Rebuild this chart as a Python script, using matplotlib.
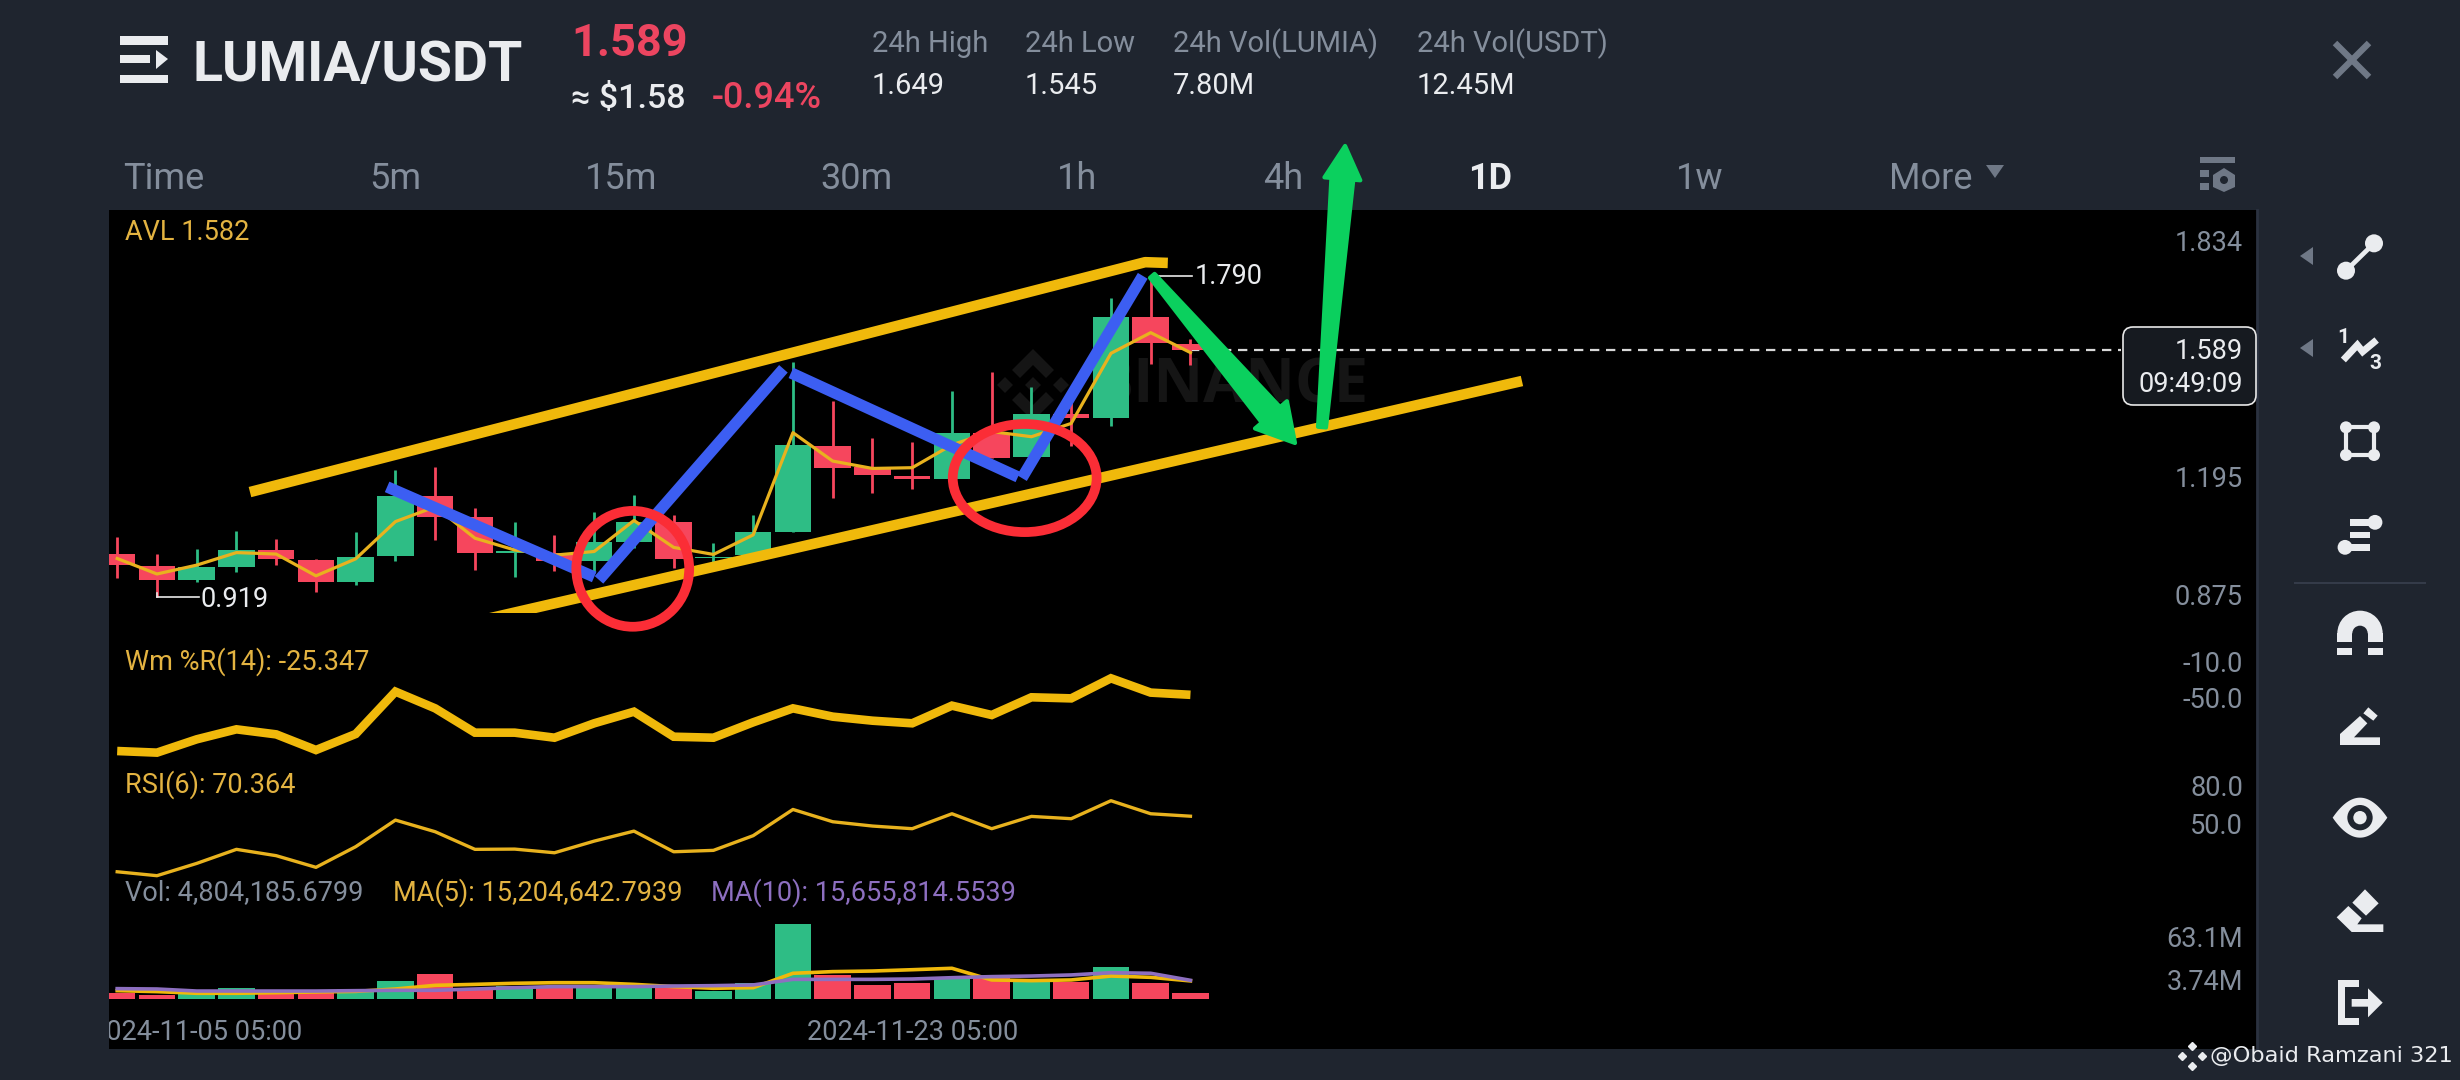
import numpy as np
import matplotlib
matplotlib.use("Agg")
import matplotlib.pyplot as plt
from matplotlib.patches import Polygon, Rectangle, Circle, Ellipse, Wedge, FancyBboxPatch
from matplotlib.transforms import blended_transform_factory

# ---------- data ----------
opens = [1.035,1.004,0.965,1.002,1.047,1.020,0.959,1.030,1.192,1.137,1.038,1.038,1.017,1.070,1.123,1.024,1.033,1.097,1.329,1.273,1.248,1.239,1.363,1.300,1.415,1.404,1.678,1.605]
closes = [1.005,0.966,1.000,1.047,1.022,0.961,1.028,1.192,1.137,1.038,1.043,1.018,1.069,1.122,1.023,1.029,1.096,1.332,1.270,1.249,1.239,1.363,1.297,1.415,1.404,1.678,1.607,1.589]
highs = [1.083,1.035,1.049,1.099,1.077,1.022,1.095,1.264,1.273,1.160,1.124,1.088,1.149,1.197,1.142,1.065,1.142,1.557,1.451,1.350,1.339,1.478,1.529,1.490,1.490,1.731,1.790,1.618]
lows = [0.972,0.919,0.961,0.988,1.005,0.934,0.951,1.017,1.074,0.993,0.975,0.991,0.984,1.052,0.997,1.015,1.033,1.097,1.189,1.201,1.211,1.239,1.297,1.300,1.329,1.384,1.551,1.547]
avl = [1.024,0.982,1.006,1.040,1.036,0.977,1.023,1.124,1.164,1.079,1.047,1.033,1.043,1.127,1.054,1.035,1.088,1.365,1.288,1.268,1.270,1.332,1.368,1.354,1.390,1.580,1.636,1.582]
wr14 = [-87.8,-89.6,-74.8,-63.7,-69.3,-86.7,-68.9,-21.8,-40.4,-67.4,-67.4,-73.0,-57.0,-44.1,-71.9,-73.0,-55.9,-40.4,-49.6,-54.1,-57.0,-37.4,-47.8,-28.1,-29.3,-7.0,-22.9,-25.347]
rsi6 = [26.5,23.4,33.1,44.2,39.2,30.0,46.3,67.3,58.1,44.2,44.4,41.5,50.7,58.6,42.3,43.4,55.0,75.7,66.0,62.6,60.5,72.3,60.5,70.2,68.4,82.6,72.3,70.364]
volume = [4.8,3.4,7.6,9.0,7.6,7.6,8.1,15.1,21.0,8.1,11.2,9.0,9.0,10.4,9.0,6.7,13.2,63.1,20.2,12.0,13.2,16.5,17.4,16.5,14.0,27.2,13.2,4.804]
vol_ma5 = [7.0,6.2,4.8,4.8,5.3,5.9,6.4,8.4,11.5,12.3,13.2,13.7,13.7,12.3,10.4,9.0,9.5,21.6,23.0,23.5,24.6,25.8,16.0,15.4,16.0,19.3,18.2,15.2]
vol_ma10 = [8.7,8.4,6.7,6.7,6.7,6.7,7.0,7.3,7.3,8.4,9.5,10.4,10.4,10.4,10.9,11.2,11.8,16.5,16.5,16.5,16.8,17.9,18.8,19.3,20.2,22.1,21.6,15.7]
date_ticks = [2, 20]
date_labels = ["2024-11-05 05:00", "2024-11-23 05:00"]
price_ticks = [1.834, 1.195, 0.875]
wr_ticks = [-10.0, -50.0]
rsi_ticks = [80.0, 50.0]
last_price = 1.589

# hand-drawn annotations, in (candle index, price)
channel_top = ([3.34, 25.86, 26.43], [1.204, 1.827, 1.825])
channel_low = ([9.13, 35.34], [0.856, 1.505])
blue_legs = [([6.79, 12.0], [1.218, 0.974]),
             ([12.12, 16.76], [0.966, 1.538]),
             ([16.95, 22.66], [1.527, 1.245]),
             ([22.76, 25.80], [1.242, 1.790])]
red_rings = [(12.97, 0.996, 2.84, 0.314), (22.83, 1.242, 3.62, 0.293)]
green_down = ((26.04, 1.790), (29.63, 1.337))
green_up = ((30.31, 1.380), (30.89, 2.142))

# ---------- style ----------
BG = "#1F252F"; UP = "#2EBD85"; DN = "#F6465D"; GOLD = "#F0B90B"; TXT_GOLD = "#E3B341"
GREY = "#848E9C"; WHITE = "#EAECEF"; PURPLE = "#8D6FC0"; ICON = "#6F7886"
W, H = 2460, 1080
plt.rcParams["font.family"] = ["Roboto", "DejaVu Sans"]
fig = plt.figure(figsize=(W/100, H/100), dpi=100, facecolor=BG)
PL, PR, PT, PB = 109, 2257, 210, 1049
X0, DX = 117.2, 39.75
xlim = ((PL-X0)/DX, (PR-X0)/DX)
n = len(opens)
xs = np.arange(n)

def px_axes(top, bottom, ylim=None, z=1):
    ax = fig.add_axes([PL/W, 1-bottom/H, (PR-PL)/W, (bottom-top)/H], zorder=z)
    ax.set_xlim(xlim)
    if ylim: ax.set_ylim(ylim)
    ax.axis("off")
    return ax

panel = px_axes(PT, PB, z=0)
panel.set_axis_on(); panel.set_facecolor("black"); panel.set_xticks([]); panel.set_yticks([])
for s in panel.spines.values(): s.set_visible(False)
panel.spines["right"].set_visible(True); panel.spines["right"].set_color("#2B3240"); panel.spines["right"].set_linewidth(2)

# watermark layer
wm = fig.add_axes([0,0,1,1], zorder=0.5); wm.set_xlim(0,W); wm.set_ylim(H,0); wm.axis("off")
WM = "#151515"; cx, cy = 1033, 385
for pts in ([(0,-36),(21,-15),(13,-7),(0,-20),(-13,-7),(-21,-15)],
            [(0,36),(21,15),(13,7),(0,20),(-13,7),(-21,15)],
            [(-36,0),(-28,-8),(-20,0),(-28,8)], [(36,0),(28,-8),(20,0),(28,8)],
            [(0,-8),(8,0),(0,8),(-8,0)]):
    wm.add_patch(Polygon([(cx+a, cy+b) for a,b in pts], fc=WM, ec="none"))
wm.text(1369, 387, "BINANCE", color=WM, fontsize=44, fontweight="bold", ha="right", va="center", family="Open Sans")

# price
P_K = 369.0
def p_at(y): return last_price - (y-350)/P_K
price = px_axes(PT, 613, (p_at(613), p_at(PT)), z=1)
cols = [UP if c >= o else DN for o, c in zip(opens, closes)]
price.vlines(xs, lows, highs, colors=cols, lw=2.0, zorder=2)
price.bar(xs, np.abs(np.array(closes)-np.array(opens)), bottom=np.minimum(opens, closes), width=0.92, color=cols, zorder=2)
price.plot(xs, avl, color="#E8B21E", lw=2.3, zorder=3)
price.plot([n-1, 50.4], [last_price]*2, color="#D8D8D8", lw=1.6, dashes=(4.2, 3), zorder=1.5)
price.plot([1, 2.05], [0.919]*2, color="#E8E8E8", lw=1.2, zorder=3)
price.plot([1, 1], [0.919, 0.93], color="#E8E8E8", lw=1.2, zorder=3)
price.plot([26.05, 27.05], [1.790]*2, color="#E8E8E8", lw=1.2, zorder=3)
price.annotate("0.919", xy=(2.1, 0.919), xytext=(0, -1.6), textcoords="offset points", color=WHITE, fontsize=19.5, va="center", zorder=6, annotation_clip=False)
price.annotate("1.790", xy=(27.1, 1.790), xytext=(0, -0.5), textcoords="offset points", color=WHITE, fontsize=19.5, va="center", zorder=6, annotation_clip=False)
price.plot(*channel_top, color=GOLD, lw=7.6, solid_capstyle="butt", solid_joinstyle="round", zorder=4, clip_on=False)
price.plot(*channel_low, color=GOLD, lw=7.6, solid_capstyle="butt", zorder=4)
for lx, ly in blue_legs:
    price.plot(lx, ly, color="#3C5EF2", lw=8.2, solid_capstyle="butt", zorder=5, clip_on=False)
for ex, ey, ew, eh in red_rings:
    price.add_patch(Ellipse((ex, ey), ew, eh, fc="none", ec="#FB2D36", lw=7.0, zorder=7, clip_on=False))

def ticks(ax, vals, fmt, dy):
    tr = blended_transform_factory(ax.transAxes, ax.transData)
    for v, d in zip(vals, dy):
        ax.annotate(fmt(v), xy=(1, v), xycoords=tr, xytext=(-14*0.72, d*0.72), textcoords="offset points",
                    ha="right", va="center", color=GREY, fontsize=19.5, annotation_clip=False, zorder=9)
ticks(price, price_ticks, lambda v: f"{v:.3f}", [16]*3)

# Williams %R
WK = 0.9
wr_ax = px_axes(640, 775, (-10-(775-681)/WK, -10+(681-640)/WK), z=2)
wr_ax.plot(xs, wr14, color=GOLD, lw=6.2, solid_joinstyle="miter", solid_capstyle="butt", clip_on=False)
ticks(wr_ax, wr_ticks, lambda v: f"{v:.1f}", [16]*2)

# RSI
RK = 38/30
rsi_ax = px_axes(775, 880, (80-(880-804)/RK, 80+(804-775)/RK), z=2)
rsi_ax.plot(xs, rsi6, color="#E8B21E", lw=2.4, clip_on=False)
ticks(rsi_ax, rsi_ticks, lambda v: f"{v:.1f}", [16]*2)

# Volume
VK = 0.84
vol_ax = px_axes(880, PB, (-(PB-999)*VK, (999-880)*VK), z=2)
vol_ax.bar(xs, volume, width=0.92, color=cols, zorder=1)
vol_ax.plot(xs, vol_ma5, color=GOLD, lw=2.6, zorder=2)
vol_ax.plot(xs, vol_ma10, color=PURPLE, lw=2.6, zorder=3)
tr = blended_transform_factory(vol_ax.transData, vol_ax.transAxes)
for t, l in zip(date_ticks, date_labels):
    vol_ax.text(t, (PB-1032.5)/(PB-880), l, transform=tr, ha="center", va="center", color=GREY, fontsize=19.5, clip_on=True)
ticks(vol_ax, [63.1, 3.74], lambda v: f"{v:.3g}M" if v < 10 else f"{v:.1f}M", [-16, 12.5])

# ---------- chrome ----------
ui = fig.add_axes([0,0,1,1], zorder=5); ui.set_xlim(0,W); ui.set_ylim(H,0); ui.axis("off")
def T(x, y, s, c=WHITE, fs=19.5, ha="left", dy=2.5, **k):
    ui.text(x, y+dy, s, color=c, fontsize=fs, ha=ha, va="center", **k)
def R(x0, y0, x1, y1, c=WHITE):
    ui.add_patch(Rectangle((x0,y0), x1-x0, y1-y0, fc=c, ec="none"))
def PG(pts, c=WHITE, **k):
    ui.add_patch(Polygon(pts, closed=True, fc=c, ec=k.pop("ec","none"), **k))
def C(x, y, r, c=WHITE):
    ui.add_patch(Circle((x,y), r, fc=c, ec="none"))

# panel captions
T(125, 230, "AVL 1.582", TXT_GOLD)
T(125, 659, "Wm %R(14): -25.347", TXT_GOLD)
T(125, 782, "RSI(6): 70.364", TXT_GOLD)
T(125, 890, "Vol: 4,804,185.6799", GREY)
T(393, 890, "MA(5): 15,204,642.7939", TXT_GOLD)
T(711, 890, "MA(10): 15,655,814.5539", PURPLE)

# header
R(120,36,168,45); R(120,75,168,83); R(120,55,150,63); R(120,63,150,65,BG)
PG([(156,50),(168,59),(156,69)])
T(193, 64, "LUMIA/USDT", WHITE, 40, fontweight="bold")
T(571, 41, "1.589", "#EC4560", 32.5, fontweight="bold")
T(571, 96.5, "\u2248 $1.58", WHITE, 24.5, fontweight="medium")
T(712, 96.5, "-0.94%", "#EC4560", 26, fontweight="medium")
for x, a, b in [(872,"24h High","1.649"),(1025,"24h Low","1.545"),(1173,"24h Vol(LUMIA)","7.80M"),(1417,"24h Vol(USDT)","12.45M")]:
    T(x, 41, a, GREY, 21); T(x, 83, b, WHITE, 21)
for x, s in [(164,"Time"),(395,"5m"),(621,"15m"),(857,"30m"),(1077,"1h"),(1283,"4h"),(1700,"1w"),(1931,"More")]:
    T(x, 175, s, GREY, 26, ha="center", dy=4)
T(1490, 175, "1D", WHITE, 26, ha="center", dy=4, fontweight="bold")
PG([(1986,165),(2004,165),(1995,178)], ICON)
# settings icon
R(2200,157,2235,163,ICON); R(2200,170,2209,177,ICON); R(2200,183,2209,190,ICON)
PG([(2224,168),(2235,175),(2235,187),(2224,192),(2213,187),(2213,175)], ICON); C(2224,180,4,BG)
# close
ui.plot([2335,2369],[43,77],color=ICON,lw=4.6,solid_capstyle="butt"); ui.plot([2335,2369],[77,43],color=ICON,lw=4.6,solid_capstyle="butt")

# price box
ui.add_patch(FancyBboxPatch((2128,332),123,68,boxstyle="round,pad=5,rounding_size=10",fc="#161A20",ec="#E8E8E8",lw=1.2))
T(2243, 349, "1.589", WHITE, 19.5, ha="right")
T(2243, 382, "09:49:09", WHITE, 19.5, ha="right")

# sidebar (zoomed coords -> px)
def zx(v): return 2280+v/3
def zy(v): return 220+v/3
def zz(v): return 590+v/3
for y in (256, 348):
    PG([(2300,y),(2313,y-9),(2313,y+9)], ICON)
C(zx(282),zy(70),9); C(zx(198),zy(152),9)
ui.plot([zx(282),zx(198)],[zy(70),zy(152)],color=WHITE,lw=3.4)
ui.plot([zx(190),zx(232),zx(248),zx(290)],[zy(420),zy(375),zy(395),zy(360)],color=WHITE,lw=5,solid_joinstyle="miter",solid_capstyle="butt")
T(zx(190),zy(352),"1",WHITE,15,ha="center",dy=0,fontweight="bold"); T(zx(285),zy(430),"3",WHITE,15,ha="center",dy=0,fontweight="bold")
for a,b in [(198,622),(282,622),(198,705),(282,705)]: C(zx(a),zy(b),6)
ui.add_patch(Rectangle((zx(198),zy(622)),28,zy(705)-zy(622),fc="none",ec=WHITE,lw=3))
R(zx(210),zy(897),zx(285),zy(918)); R(zx(210),zy(935),zx(270),zy(955)); R(zx(195),zy(972),zx(270),zy(993))
C(zx(285),zy(907),7.4); C(zx(195),zy(982),7.4)
R(2294,582,2426,584,"#343B49")
# magnet
ui.add_patch(Wedge((zx(240),zz(130)),68/3,180,360,width=45/3,fc=WHITE,ec="none"))
R(zx(172),zz(130),zx(217),zz(157)); R(zx(263),zz(130),zx(308),zz(157)); R(zx(172),zz(175),zx(217),zz(196)); R(zx(263),zz(175),zx(308),zz(196))
# pencil
Z = lambda pts: [(zx(a),zz(b)) for a,b in pts]
PG(Z([(180,432),(240,378),(262,400),(222,442),(300,442),(300,465),(180,465)]))
PG(Z([(250,370),(265,352),(293,377),(280,392)]))
# eye
t = np.linspace(-1,1,40)
PG(Z(list(zip(240+82*t,683-60*(1-t**2)))+list(zip(240-82*t,683+60*(1-t**2)))))
C(zx(240),zz(683),38/3,BG); C(zx(240),zz(683),20/3)
# eraser
PG(Z([(255,898),(296,940),(258,977),(217,938)]))
PG(Z([(170,982),(205,948),(245,985),(232,1003),(310,1003),(310,1026),(215,1026)]))
# exit
PG(Z([(175,1170),(238,1170),(238,1190),(196,1190),(196,1285),(238,1285),(238,1306),(175,1306)]))
PG(Z([(215,1227),(264,1227),(264,1195),(308,1238),(264,1282),(264,1250),(215,1250)]))

# footer tag
ui.text(2210, 1056, "@Obaid Ramzani 321", color=WHITE, fontsize=16.2, family="DejaVu Sans", ha="left", va="center", zorder=8)
for a, b in [(2192,1046),(2192,1066),(2182,1056),(2202,1056)]:
    ui.plot(a, b, marker="D", ms=4, color=WHITE)

# green arrows
def to_ui(pt):
    dx, dy = price.transData.transform(pt)
    return np.array([dx, H-dy])
fig.canvas.draw()
def arrow(a, b, w0, w1, head_w, head_l):
    s, e = to_ui(a), to_ui(b)
    u = (e-s)/np.linalg.norm(e-s); v = np.array([-u[1], u[0]])
    base = e-u*head_l
    pts = [s+v*w0/2, base+v*w1/2, base+v*head_w/2, e, base-v*head_w/2, base-v*w1/2, s-v*w0/2]
    PG(pts, "#0BD05E", ec="#0BD05E", lw=3, joinstyle="round", zorder=9)
arrow(*green_down, 6, 24, 42, 37)
arrow(*green_up, 8, 22, 36, 33)

fig.savefig("out.png", dpi=100, facecolor=BG)
